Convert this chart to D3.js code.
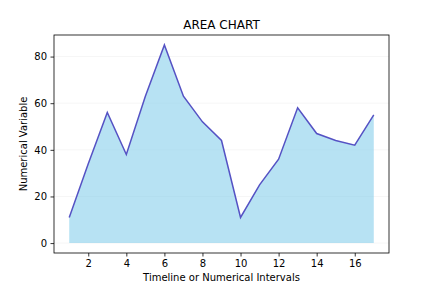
<!DOCTYPE html>
<html>
<head>
<meta charset="utf-8">
<script src="https://cdn.jsdelivr.net/npm/d3@7"></script>
<style>
  body { margin: 0; background: #fff; }
  svg text { font-family: "DejaVu Sans", sans-serif; fill: #000; }
</style>
</head>
<body>
<svg id="chart" width="432" height="288"></svg>
<script>
// data
const xValues = [1, 2, 3, 4, 5, 6, 7, 8, 9, 10, 11, 12, 13, 14, 15, 16, 17];
const yValues = [11, 34, 56, 38, 63, 85, 63, 52, 44, 11, 25, 36, 58, 47, 44, 42, 55];
const xTicks = [2, 4, 6, 8, 10, 12, 14, 16];
const yTicks = [0, 20, 40, 60, 80];

const svg = d3.select('#chart');
const margin = { left: 54, right: 43, top: 35, bottom: 35 };
const width = 432, height = 288;
const innerW = width - margin.left - margin.right;
const innerH = height - margin.top - margin.bottom;

const data = xValues.map((x, i) => ({ x: x, y: yValues[i] }));

// matplotlib-style 5% margins
const xPad = (d3.max(xValues) - d3.min(xValues)) * 0.05;
const yPad = (d3.max(yValues) - 0) * 0.05;
const x = d3.scaleLinear()
  .domain([d3.min(xValues) - xPad, d3.max(xValues) + xPad])
  .range([0, innerW]);
const y = d3.scaleLinear()
  .domain([0 - yPad, d3.max(yValues) + yPad])
  .range([innerH, 0]);

const g = svg.append('g')
  .attr('transform', `translate(${margin.left},${margin.top})`);

// faint grid
g.selectAll('.grid')
  .data(yTicks)
  .enter()
  .append('line')
  .attr('x1', 0)
  .attr('x2', innerW)
  .attr('y1', d => y(d))
  .attr('y2', d => y(d))
  .attr('stroke', '#000')
  .attr('stroke-opacity', 0.04)
  .attr('stroke-width', 1);

const area = d3.area()
  .x(d => x(d.x))
  .y0(y(0))
  .y1(d => y(d.y));

const line = d3.line()
  .x(d => x(d.x))
  .y(d => y(d.y));

g.append('path')
  .datum(data)
  .attr('d', area)
  .attr('fill', 'skyblue')
  .attr('fill-opacity', 0.6);

g.append('path')
  .datum(data)
  .attr('d', line)
  .attr('fill', 'none')
  .attr('stroke', '#5552c4')
  .attr('stroke-width', 1.5);

// axes
const xAxis = d3.axisBottom(x).tickValues(xTicks).tickSize(3.5).tickPadding(3.5);
const yAxis = d3.axisLeft(y).tickValues(yTicks).tickSize(3.5).tickPadding(3.5);

const gx = g.append('g')
  .attr('transform', `translate(0,${innerH})`)
  .call(xAxis);
const gy = g.append('g').call(yAxis);

[gx, gy].forEach(a => {
  a.select('.domain').remove();
  a.selectAll('.tick line').attr('stroke', '#000').attr('stroke-width', 0.8);
  a.selectAll('.tick text').attr('font-size', 10).attr('fill', '#000');
});

// frame
g.append('rect')
  .attr('x', 0)
  .attr('y', 0)
  .attr('width', innerW)
  .attr('height', innerH)
  .attr('fill', 'none')
  .attr('stroke', '#000')
  .attr('stroke-width', 0.8);

// labels
svg.append('text')
  .attr('x', margin.left + innerW / 2)
  .attr('y', margin.top - 6)
  .attr('text-anchor', 'middle')
  .attr('font-size', 12)
  .text('AREA CHART');

svg.append('text')
  .attr('x', margin.left + innerW / 2)
  .attr('y', height - 7)
  .attr('text-anchor', 'middle')
  .attr('font-size', 10)
  .text('Timeline or Numerical Intervals');

svg.append('text')
  .attr('transform', `translate(27,${margin.top + innerH / 2}) rotate(-90)`)
  .attr('text-anchor', 'middle')
  .attr('font-size', 10)
  .text('Numerical Variable');
</script>
</body>
</html>
